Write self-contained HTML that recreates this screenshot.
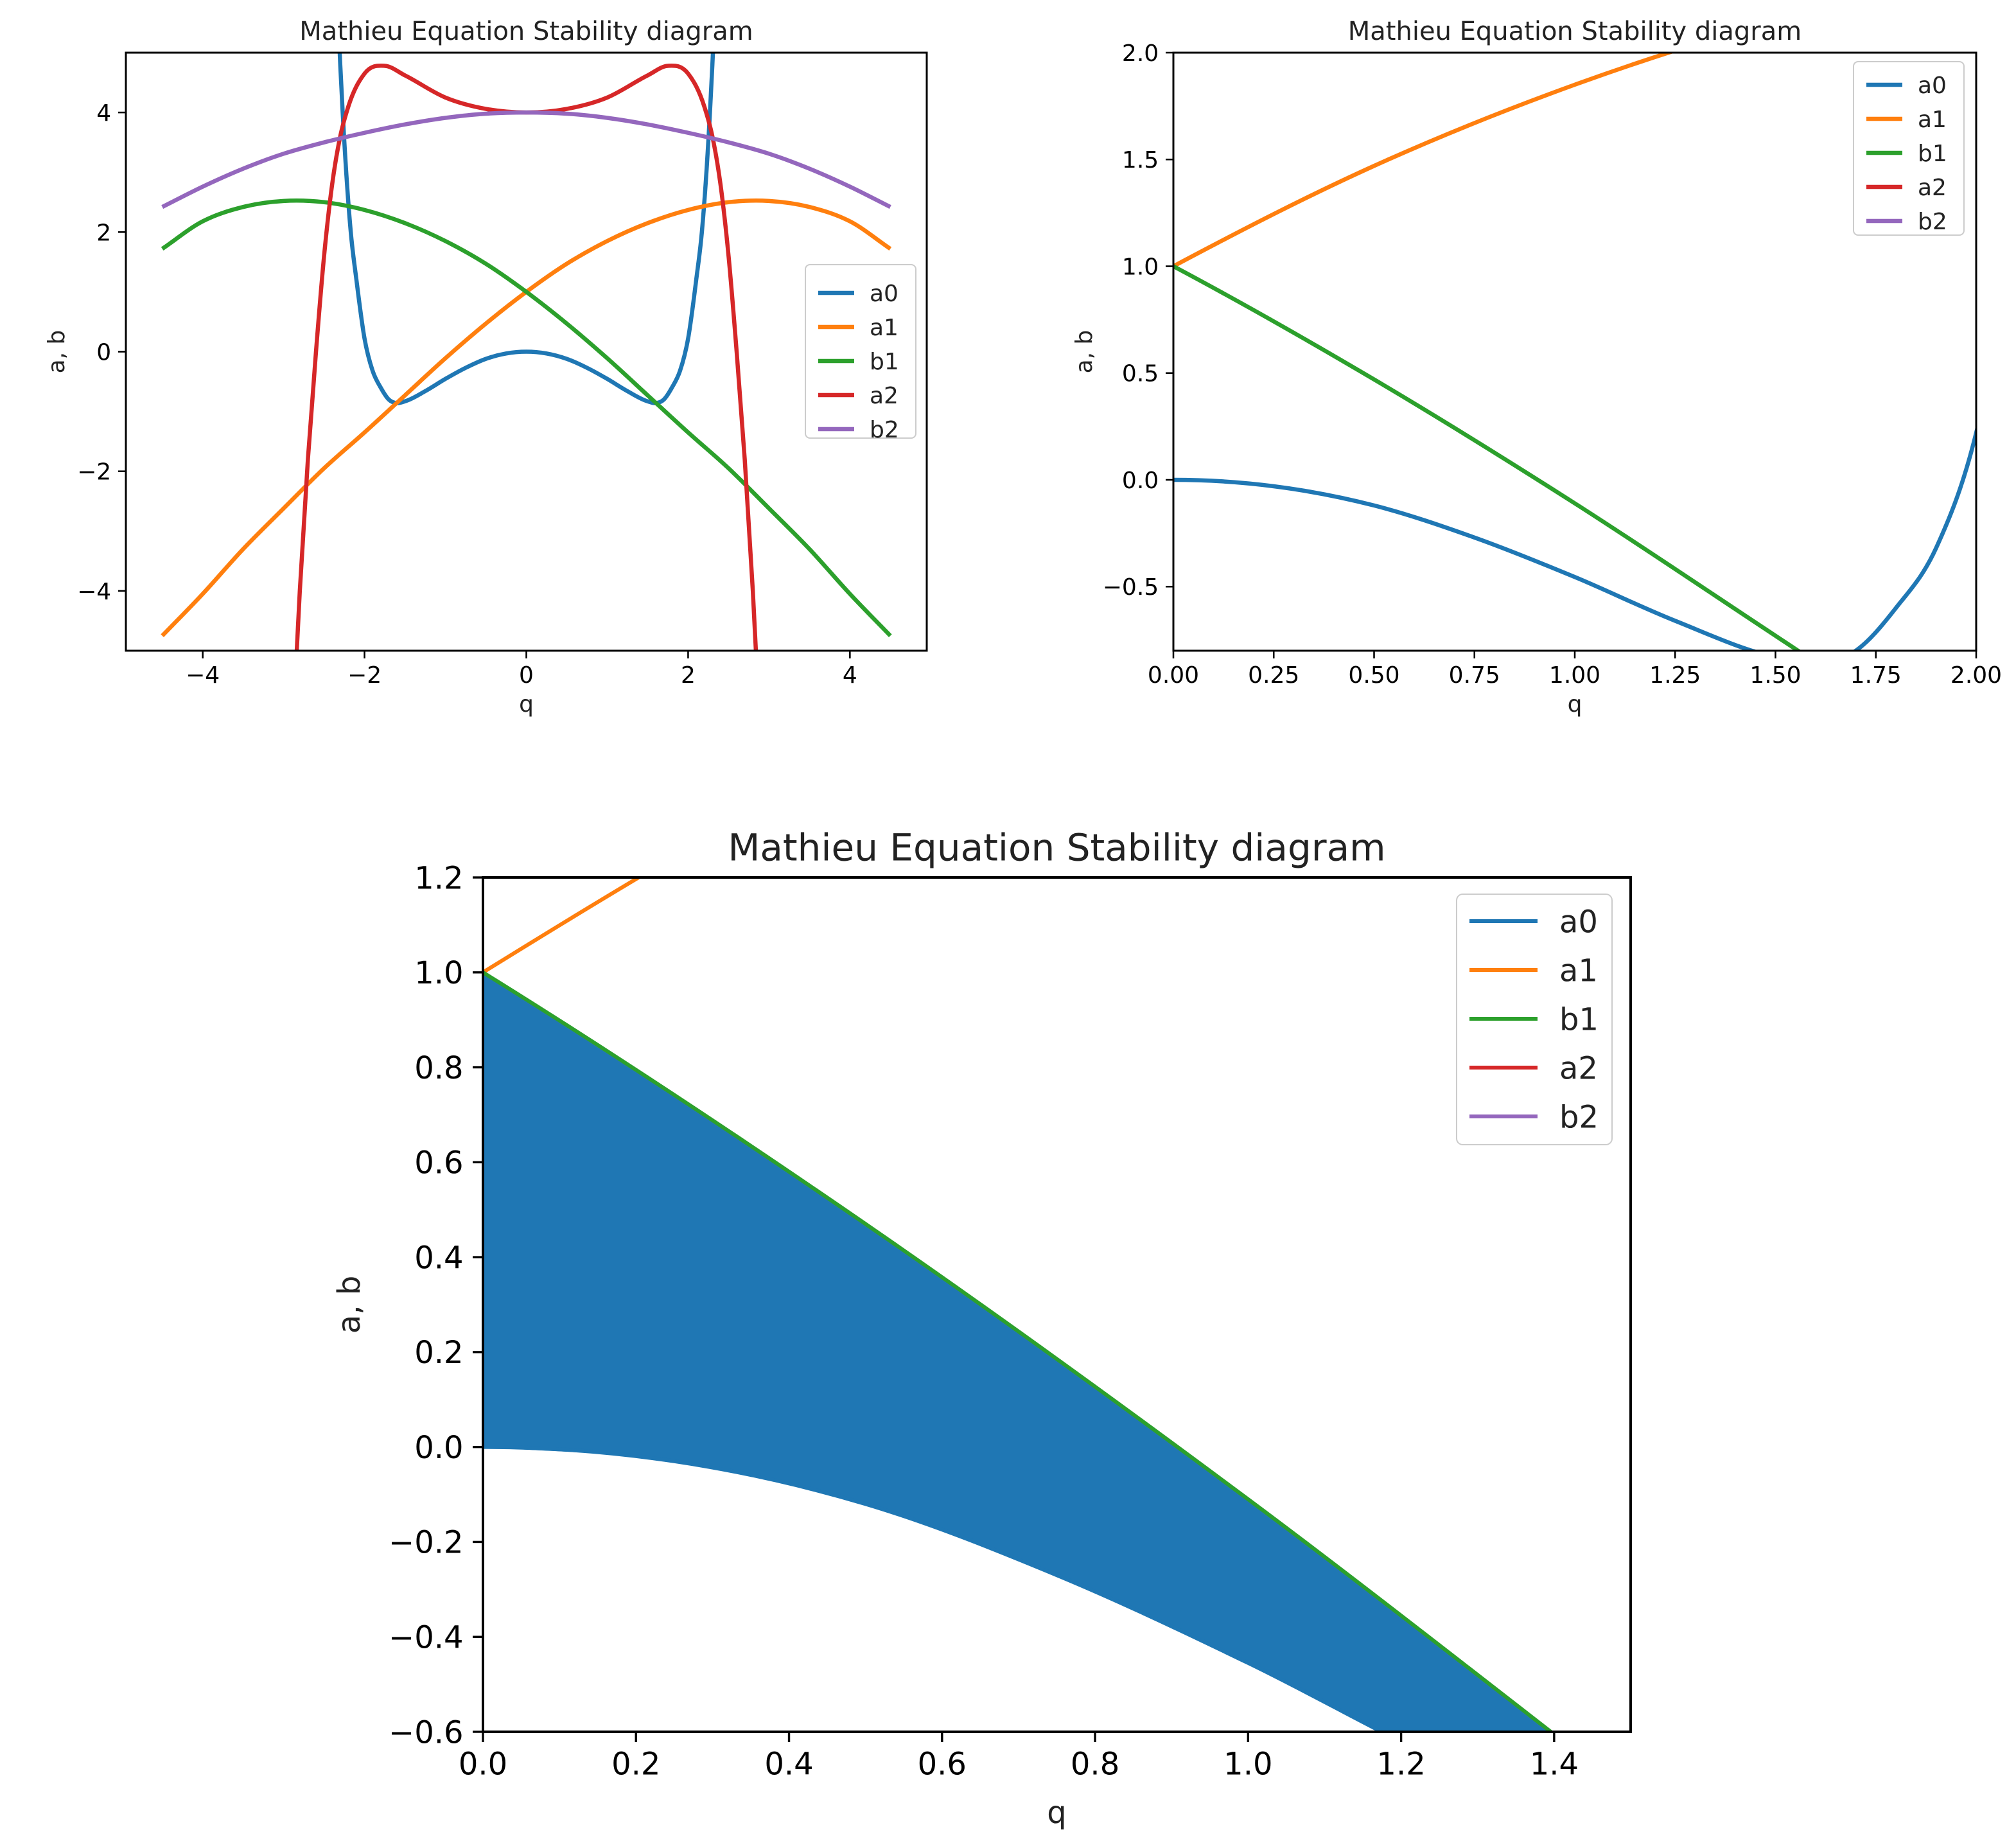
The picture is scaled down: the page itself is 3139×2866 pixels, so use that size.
<!DOCTYPE html>
<html><head><meta charset="utf-8"><style>
html,body{margin:0;padding:0;background:#fff;width:3139px;height:2866px;overflow:hidden;}
svg{display:block;font-family:"DejaVu Sans","Liberation Sans",sans-serif;}
</style></head><body>
<svg id="fig" width="3139" height="2866" viewBox="0 0 3139 2866" xmlns="http://www.w3.org/2000/svg"></svg>
<script>
// ---- data ----
const qA0 = [-2.35,-2.3,-2.27,-2.17,-2.1,-2.0,-1.9,-1.8,-1.7,-1.6,-1.5,-1.25,-1.0,-0.75,-0.5,-0.25,0,0.25,0.5,0.75,1.0,1.25,1.5,1.6,1.7,1.8,1.9,2.0,2.1,2.17,2.27,2.3,2.35];
const a0 = [6.3,4.8,4.0,2.0,1.2,0.22,-0.32,-0.6,-0.8,-0.86,-0.83,-0.66,-0.455,-0.27,-0.12,-0.03,0,-0.03,-0.12,-0.27,-0.455,-0.66,-0.83,-0.86,-0.8,-0.6,-0.32,0.22,1.2,2.0,4.0,4.8,6.3];
const qA1 = [-4.5,-4,-3.5,-3,-2.5,-2,-1.5,-1,-0.5,0,0.5,1,1.5,2,2.5,3,3.5,4,4.5];
const a1 = [-4.75,-4.05,-3.3,-2.62,-1.95,-1.35,-0.73,-0.11,0.47,1,1.47,1.85,2.15,2.37,2.5,2.52,2.42,2.18,1.72];
const qB1 = [-4.5,-4,-3.5,-3,-2.5,-2,-1.5,-1,-0.5,0,0.5,1,1.5,2,2.5,3,3.5,4,4.5];
const b1 = [1.72,2.18,2.42,2.52,2.5,2.37,2.15,1.85,1.47,1,0.47,-0.11,-0.73,-1.35,-1.95,-2.62,-3.3,-4.05,-4.75];
const qA2 = [-2.86,-2.8,-2.7,-2.6,-2.5,-2.4,-2.3,-2.2,-2.0,-1.75,-1.5,-1.0,-0.5,0,0.5,1.0,1.5,1.75,2.0,2.2,2.3,2.4,2.5,2.6,2.7,2.8,2.86];
const a2 = [-5.6,-4.0,-1.8,0.0,1.6,2.8,3.6,4.1,4.65,4.78,4.62,4.25,4.06,4.0,4.06,4.25,4.62,4.78,4.65,4.1,3.6,2.8,1.6,0.0,-1.8,-4.0,-5.6];
const qB2 = [-4.5,-4,-3.5,-3,-2.5,-2,-1.5,-1,-0.5,0,0.5,1,1.5,2,2.5,3,3.5,4,4.5];
const b2 = [2.42,2.76,3.06,3.31,3.5,3.66,3.8,3.91,3.98,4.0,3.98,3.91,3.8,3.66,3.5,3.31,3.06,2.76,2.42];
const seriesNames = ["a0","a1","b1","a2","b2"];
const ticks1X = [-4,-2,0,2,4];
const ticks1Y = [-4,-2,0,2,4];
const ticks2X = [0,0.25,0.5,0.75,1.0,1.25,1.5,1.75,2.0];
const ticks2Y = [-0.5,0,0.5,1.0,1.5,2.0];
const ticks3X = [0,0.2,0.4,0.6,0.8,1.0,1.2,1.4];
const ticks3Y = [-0.6,-0.4,-0.2,0,0.2,0.4,0.6,0.8,1.0,1.2];

const NS = "http://www.w3.org/2000/svg";
const svg = document.getElementById('fig');
const COLORS = ["#1f77b4","#ff7f0e","#2ca02c","#d62728","#9467bd"];
const SERIES = [[qA0,a0],[qA1,a1],[qB1,b1],[qA2,a2],[qB2,b2]];

function el(tag, attrs, parent){
  const e = document.createElementNS(NS, tag);
  for (const k in attrs) e.setAttribute(k, attrs[k]);
  (parent||svg).appendChild(e);
  return e;
}
function fmt(v, d){ const s = v.toFixed(d); return s.startsWith('-') ? '\u2212'+s.slice(1) : s; }
function curve(xs, ys, sx, sy, startCmd){
  const n = xs.length;
  const m = xs.map((x,i)=>{
    if (i===0) return (ys[1]-ys[0])/(xs[1]-xs[0]);
    if (i===n-1) return (ys[n-1]-ys[n-2])/(xs[n-1]-xs[n-2]);
    const s1=(ys[i]-ys[i-1])/(xs[i]-xs[i-1]), s2=(ys[i+1]-ys[i])/(xs[i+1]-xs[i]);
    const h1=xs[i]-xs[i-1], h2=xs[i+1]-xs[i];
    return (s1*h2+s2*h1)/(h1+h2);
  });
  let d = startCmd + sx(xs[0]).toFixed(2)+","+sy(ys[0]).toFixed(2);
  for (let i=0;i<n-1;i++){
    const h = (xs[i+1]-xs[i])/3;
    d += " C"+sx(xs[i]+h).toFixed(2)+","+sy(ys[i]+m[i]*h).toFixed(2)+" "+
         sx(xs[i+1]-h).toFixed(2)+","+sy(ys[i+1]-m[i+1]*h).toFixed(2)+" "+
         sx(xs[i+1]).toFixed(2)+","+sy(ys[i+1]).toFixed(2);
  }
  return d;
}
function subset(xs, ys, lo, hi){
  const X=[],Y=[];
  xs.forEach((x,i)=>{ if(x>=lo-1e-9 && x<=hi+1e-9){X.push(x);Y.push(ys[i]);} });
  return [X,Y];
}

function drawPlot(cfg){
  const g = el('g', {});
  
  
  const {L,R,T,B,xmin,xmax,ymin,ymax,fs,tfs,lw,sw,tl} = cfg;
  const sx = x => L + (x-xmin)/(xmax-xmin)*(R-L);
  const sy = y => B - (y-ymin)/(ymax-ymin)*(B-T);
  const cid = cfg.name+'-clip';
  const cp = el('clipPath',{id:cid}, g);
  el('rect',{x:L,y:T,width:R-L,height:B-T}, cp);
  const plotG = el('g',{'clip-path':'url(#'+cid+')'}, g);
  
  

  if (cfg.fill){
    const [fx1, fy1] = subset(qB1, b1, 0, 1.5);
    const [fx0, fy0] = subset(qA0, a0, 0, 1.5);
    const d = curve(fx1, fy1, sx, sy, "M") + " " +
              curve(fx0.slice().reverse(), fy0.slice().reverse(), sx, sy, "L") + " Z";
    const f = el('path',{d: d, fill:"#1f77b4", stroke:"none"}, plotG);
    
    
  }
  SERIES.forEach((s,i)=>{
    const path = el('path',{d:curve(s[0], s[1], sx, sy, "M"), fill:"none", stroke:COLORS[i], 'stroke-width':lw, 'stroke-linejoin':'round'}, plotG);
    
    
  });

  const sp = el('rect',{x:L,y:T,width:R-L,height:B-T,fill:'none',stroke:'#000','stroke-width':sw}, g);
  
  

  cfg.xt.forEach(v=>{
    const x = sx(v);
    el('line',{x1:x,y1:B,x2:x,y2:B+tl,stroke:'#000','stroke-width':sw*0.85}, g);
    const t = el('text',{x:x,y:B+tl+fs*1.05,'font-size':fs,'text-anchor':'middle',fill:'#000'}, g);
    t.textContent = fmt(v, cfg.xd);
    
    
  });
  cfg.yt.forEach(v=>{
    const y = sy(v);
    el('line',{x1:L-tl,y1:y,x2:L,y2:y,stroke:'#000','stroke-width':sw*0.85}, g);
    const t = el('text',{x:L-tl-fs*0.3,y:y+fs*0.36,'font-size':fs,'text-anchor':'end',fill:'#000'}, g);
    t.textContent = fmt(v, cfg.yd);
    
    
  });
  const title = el('text',{x:(L+R)/2,y:T-fs*0.55,'font-size':tfs,'text-anchor':'middle',fill:'#222'}, g);
  title.textContent = "Mathieu Equation Stability diagram";
  
  
  const xl = el('text',{x:(L+R)/2,y:cfg.xly,'font-size':fs,'text-anchor':'middle',fill:'#222'}, g);
  xl.textContent = "q";
  
  
  const yl = el('text',{x:0,y:0,'font-size':fs,'text-anchor':'middle',fill:'#222',transform:'translate('+cfg.ylx+','+((T+B)/2)+') rotate(-90)'}, g);
  yl.textContent = "a, b";
  
  

  const lg = el('g',{}, g);
  
  
  const Lg = cfg.leg;
  el('rect',{x:Lg.x,y:Lg.y,width:Lg.w,height:Lg.h,rx:fs*0.2,fill:'#fff','fill-opacity':0.85,stroke:'#ccc','stroke-width':2}, lg);
  seriesNames.forEach((n,i)=>{
    const yy = Lg.y + Lg.first + i*Lg.step;
    const e = el('g',{}, lg);
    
    
    el('line',{x1:Lg.x+Lg.lx1,y1:yy,x2:Lg.x+Lg.lx2,y2:yy,stroke:COLORS[i],'stroke-width':lw}, e);
    const t = el('text',{x:Lg.x+Lg.tx,y:yy+fs*0.36,'font-size':fs,fill:'#222'}, e);
    t.textContent = n;
  });
}

drawPlot({name:'plot-full-range',L:196,R:1443,T:82,B:1013,xmin:-4.95,xmax:4.95,ymin:-5,ymax:5,
  fs:36,tfs:40,lw:6.5,sw:3,tl:12,xt:ticks1X,yt:ticks1Y,xd:0,yd:0,xly:1108,ylx:100,
  leg:{x:1254,y:412,w:172,h:270,first:44,step:53,lx1:20,lx2:76,tx:100}});
drawPlot({name:'plot-zoomed',L:1827,R:3077,T:82,B:1013,xmin:0,xmax:2,ymin:-0.8,ymax:2,
  fs:36,tfs:40,lw:6.5,sw:3,tl:12,xt:ticks2X,yt:ticks2Y,xd:2,yd:1,xly:1108,ylx:1700,
  leg:{x:2886,y:96,w:172,h:270,first:36,step:53,lx1:20,lx2:76,tx:100}});
drawPlot({name:'plot-stability-region',L:752,R:2539,T:1366,B:2696,xmin:0,xmax:1.5,ymin:-0.6,ymax:1.2,fill:true,
  fs:48,tfs:58,lw:6,sw:4,tl:16,xt:ticks3X,yt:ticks3Y,xd:1,yd:1,xly:2838,ylx:560,
  leg:{x:2268,y:1392,w:242,h:390,first:42,step:76,lx1:20,lx2:126,tx:160}});
</script>
</body></html>
